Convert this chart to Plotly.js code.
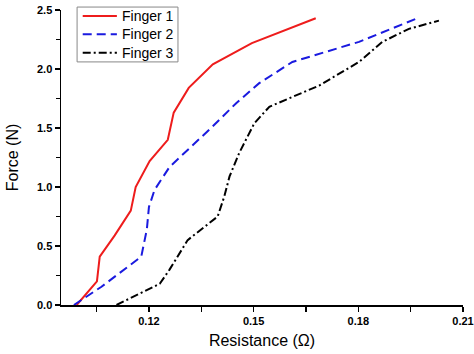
<!DOCTYPE html>
<html>
<head>
<meta charset="utf-8">
<script src="https://cdn.plot.ly/plotly-3.0.1.min.js"></script>
<style>html,body{margin:0;padding:0;background:#fff;}#chart{width:474px;height:354px;}</style>
</head>
<body>
<div id="chart"></div>
<script>
var finger1X = [0.0993, 0.1051, 0.1059, 0.1102, 0.1148, 0.1162, 0.1202, 0.1254, 0.1271, 0.1314, 0.1383, 0.1495, 0.1678];
var finger1Y = [0.00, 0.20, 0.41, 0.59, 0.80, 1.00, 1.22, 1.40, 1.63, 1.84, 2.04, 2.22, 2.43];

var finger2X = [0.0985, 0.1064, 0.1178, 0.1194, 0.1200, 0.1216, 0.1259, 0.1307, 0.1378, 0.1450, 0.1516, 0.1611, 0.1802, 0.1969];
var finger2Y = [0.00, 0.155, 0.41, 0.64, 0.83, 0.975, 1.17, 1.30, 1.50, 1.71, 1.88, 2.06, 2.23, 2.43];

var finger3X = [0.1107, 0.1231, 0.1259, 0.1311, 0.1397, 0.1416, 0.1431, 0.1459, 0.1502, 0.1545, 0.1688, 0.1802, 0.1869, 0.1945, 0.2031];
var finger3Y = [0.00, 0.18, 0.30, 0.55, 0.75, 0.92, 1.09, 1.29, 1.54, 1.68, 1.86, 2.06, 2.23, 2.34, 2.41];

var seriesNames = ['Finger 1', 'Finger 2', 'Finger 3'];
var seriesColors = ['#ee1c1c', '#1a1adf', '#000000'];
var seriesDash = ['solid', '9px,5px', '8px,3px,2px,3px'];

var xs = [finger1X, finger2X, finger3X];
var ys = [finger1Y, finger2Y, finger3Y];

var traces = seriesNames.map(function (n, i) {
  return {x: xs[i], y: ys[i], name: n, mode: 'lines', showlegend: false,
          line: {color: seriesColors[i], width: 2, dash: seriesDash[i]}};
});

var fam = 'Liberation Sans, Arial, sans-serif';
var tickFont = {family: fam, size: 11, color: '#000', weight: 'bold'};
var titleFont = {family: fam, size: 16, color: '#000'};

// legend box (drawn as shapes/annotations in paper coordinates)
var shapes = [{type: 'rect', xref: 'paper', yref: 'paper', x0: 0.040, x1: 0.291, y0: 0.824, y1: 1.010,
               line: {color: '#888', width: 1}, fillcolor: '#fff', layer: 'above'}];
var annotations = [];
var rowY = [0.980, 0.918, 0.855];
seriesNames.forEach(function (n, i) {
  shapes.push({type: 'line', xref: 'paper', yref: 'paper', x0: 0.054, x1: 0.139, y0: rowY[i], y1: rowY[i],
               line: {color: seriesColors[i], width: 2, dash: seriesDash[i]}, layer: 'above'});
  annotations.push({xref: 'paper', yref: 'paper', x: 0.146, y: rowY[i], xanchor: 'left', yanchor: 'middle',
                    text: n, showarrow: false, font: {family: fam, size: 14, color: '#000'}});
});

var layout = {
  width: 474, height: 354,
  margin: {l: 61, r: 11, t: 10, b: 49},
  paper_bgcolor: '#fff', plot_bgcolor: '#fff',
  showlegend: false,
  shapes: shapes,
  annotations: annotations,
  xaxis: {
    range: [0.0948, 0.21], dtick: 0.03, tick0: 0, tickformat: '.2f',
    showgrid: false, zeroline: false, showline: true, linecolor: '#000', linewidth: 1.5,
    ticks: 'outside', ticklen: 5, tickwidth: 1.2, tickcolor: '#000',
    minor: {dtick: 0.015, tick0: 0, ticks: 'outside', ticklen: 5, tickwidth: 1.2, tickcolor: '#000', showgrid: false},
    tickfont: tickFont,
    title: {text: 'Resistance (Ω)', font: titleFont, standoff: 9},
    fixedrange: true
  },
  yaxis: {
    range: [0, 2.5], dtick: 0.5, tickformat: '.1f',
    showgrid: false, zeroline: false, showline: true, linecolor: '#000', linewidth: 1.5,
    ticks: 'outside', ticklen: 5, tickwidth: 1.2, tickcolor: '#000',
    minor: {dtick: 0.25, ticks: 'outside', ticklen: 4, tickwidth: 1.2, tickcolor: '#000', showgrid: false},
    tickfont: tickFont,
    title: {text: 'Force (N)', font: titleFont, standoff: 14},
    fixedrange: true
  }
};

Plotly.newPlot('chart', traces, layout, {displayModeBar: false, staticPlot: true});
</script>
</body>
</html>
